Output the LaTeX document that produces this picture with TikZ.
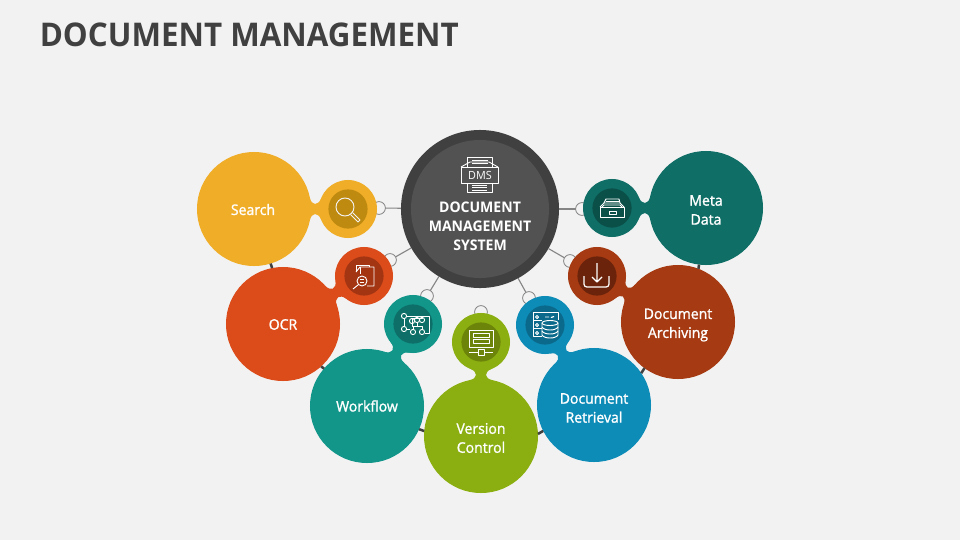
\documentclass[tikz,border=0pt]{standalone}
\usepackage{fontspec}
\setmainfont{Open Sans}[FakeStretch=.96]
\newfontfamily\labelface[FakeBold=1.3,FakeStretch=.96]{Open Sans}
\usetikzlibrary{calc}
\definecolor{paper}{HTML}{F2F2F2}
\definecolor{hubdark}{HTML}{404040}
\definecolor{hubgray}{HTML}{525252}
\definecolor{ringgray}{HTML}{858585}
\definecolor{searchcol}{HTML}{F0AD28}
\definecolor{searchin}{HTML}{BF8A10}
\definecolor{ocrcol}{HTML}{DC4C1A}
\definecolor{ocrin}{HTML}{A33513}
\definecolor{flowcol}{HTML}{12968A}
\definecolor{flowin}{HTML}{0D6F67}
\definecolor{versioncol}{HTML}{8BAF10}
\definecolor{versionin}{HTML}{6B8409}
\definecolor{retrievalcol}{HTML}{0E8CB8}
\definecolor{retrievalin}{HTML}{0B6A8C}
\definecolor{archivecol}{HTML}{A63A12}
\definecolor{archivein}{HTML}{6B240B}
\definecolor{metacol}{HTML}{0F6E66}
\definecolor{metain}{HTML}{0B4F49}
\tikzstyle{ball}=[circle, inner sep=0pt, outer sep=0pt]
\tikzstyle{big}=[ball, minimum size=2.85cm]
\tikzstyle{little}=[ball, minimum size=1.45cm]
\tikzstyle{inner}=[ball, minimum size=.98cm]
\tikzstyle{ring}=[ball, draw=ringgray, line width=.6pt, minimum size=.32cm]
\tikzstyle{link}=[draw=ringgray, line width=.8pt]
\tikzstyle{bond}=[draw=hubdark, line width=1.8pt]
\tikzstyle{icon}=[draw=white, line width=.65pt, line join=round]
\tikzstyle{word}=[text=white, align=center, inner sep=0pt, font=\labelface\fontsize{10.4}{13.5}\selectfont]
\begin{document}
\begin{tikzpicture}[x=.025cm, y=-.025cm]
	\useasboundingbox (0,0) rectangle (960,540);
	\fill[paper] (0,0) rectangle (960,540);
	\node[anchor=base west, inner sep=0pt, text=hubdark, font=\bfseries\fontsize{23.2}{30}\selectfont] (title) at (39.5,46) {DOCUMENT MANAGEMENT};

	% rings and hub
	\foreach \n/\x/\y in {rsearch/379/208, rocr/390/260, rflow/427/296, rversion/481/312, rretrieval/529/298, rarchive/570/261, rmeta/582/209}{
		\node[ring] (\n) at (\x,\y) {};
	}
	\node[ball, fill=hubdark, minimum size=3.95cm] (hub) at (480,209) {};
	\node[ball, fill=hubgray, minimum size=3.45cm] (hubcore) at (480,209) {};
	\node[text=white, align=center, inner sep=0pt, font=\bfseries\fontsize{10.4}{13.5}\selectfont] (hubtext) at (480,226) {DOCUMENT\\MANAGEMENT\\SYSTEM};
	\foreach \n in {rsearch, rocr, rflow, rretrieval, rarchive, rmeta}{
		\draw[link] (hub) -- (\n);
	}

	% big circles
	\node[big, fill=searchcol] (search) at (254,209) {};
	\node[big, fill=ocrcol] (ocr) at (283,324) {};
	\node[big, fill=flowcol] (flow) at (367,406) {};
	\node[big, fill=versioncol] (version) at (481,436) {};
	\node[big, fill=retrievalcol] (retrieval) at (594,405) {};
	\node[big, fill=archivecol] (archive) at (678,322) {};
	\node[big, fill=metacol] (meta) at (706,208) {};

	% labels
	\node[word] (tsearch) at (253,209.5) {Search};
	\node[word] (tocr) at (283,324.5) {OCR};
	\node[word] (tflow) at (367,406) {Workflow};
	\node[word] (tversion) at (481,438) {Version\\Control};
	\node[word] (tretrieval) at (594,408) {Document\\Retrieval};
	\node[word] (tarchive) at (678,325) {Document\\Archiving};
	\node[word] (tmeta) at (706,210) {Meta\\Data};

	% small circles
	\node[little, fill=searchcol] (lsearch) at (348,209) {};
	\node[little, fill=ocrcol] (locr) at (364,276) {};
	\node[little, fill=flowcol] (lflow) at (413,324) {};
	\node[little, fill=versioncol] (lversion) at (481,342) {};
	\node[little, fill=retrievalcol] (lretrieval) at (545,325) {};
	\node[little, fill=archivecol] (larchive) at (597,276) {};
	\node[little, fill=metacol] (lmeta) at (612,208) {};
	\node[inner, fill=searchin] (isearch) at (lsearch) {};
	\node[inner, fill=ocrin] (iocr) at (locr) {};
	\node[inner, fill=flowin] (iflow) at (lflow) {};
	\node[inner, fill=versionin] (iversion) at (lversion) {};
	\node[inner, fill=retrievalin] (iretrieval) at (lretrieval) {};
	\node[inner, fill=archivein] (iarchive) at (larchive) {};
	\node[inner, fill=metain] (imeta) at (lmeta) {};

	% necks
	\foreach \a/\b/\c in {search/lsearch/searchcol, ocr/locr/ocrcol, flow/lflow/flowcol, version/lversion/versioncol, retrieval/lretrieval/retrievalcol, archive/larchive/archivecol, meta/lmeta/metacol}{
		\fill[\c] ($(\a)!1.42cm!12:(\b)$) .. controls ($(\a)!1.445cm!2.9:(\b)$) and ($(\b)!.755cm!-5.5:(\a)$) .. ($(\b)!.72cm!-22:(\a)$)
			-- ($(\b)!.72cm!22:(\a)$) .. controls ($(\b)!.755cm!5.5:(\a)$) and ($(\a)!1.445cm!-2.9:(\b)$) .. ($(\a)!1.42cm!-12:(\b)$) -- cycle;
	}

	% bonds
	\foreach \a/\s/\b/\t in {search/-73/ocr/101.5, ocr/-48.4/flow/139.8, flow/-24.8/version/175.2, version/2.9/retrieval/207.8, retrieval/34.8/archive/234.5, archive/69.4/meta/263}{
		\draw[bond] (\a.\s) -- (\b.\t);
	}

	% hub icon
	\begin{scope}[shift={(480,175)}]
		\draw[icon] (-13,-8) -- (-13,-18) -- (12,-18) -- (12,-8);
		\draw[icon] (-13,8) -- (-13,17) -- (12,17) -- (12,8);
		\draw[icon] (-19,-8) rectangle (18,8);
		\draw[icon] (-19,-8) -- (-10,-13) -- (9,-13) -- (18,-8);
		\draw[icon] (-8,-15) -- (8,-15) (-8,-12) -- (8,-12);
		\draw[icon] (-8,10) -- (7,10) (-8,12) -- (7,12) (-8,15) -- (7,15);
		\node[text=white, inner sep=0pt, font=\fontsize{8}{8}\selectfont] (dms) at (0,0) {DMS};
	\end{scope}

	% search icon
	\begin{scope}[shift={(isearch)}]
		\draw[icon, draw=paper] (-3,-2) circle (9);
		\draw[icon, draw=paper] (4.5,3.5) -- (12,11) -- (10,13) -- (2.5,5.5);
	\end{scope}

	% ocr icon
	\begin{scope}[shift={(iocr)}]
		\draw[icon] (-8,-4) -- (-8,-11) -- (5,-11) -- (5,-9);
		\draw[icon] (-8,-4) -- (-4,-9) -- (10,-9) -- (10,10) -- (3,10);
		\draw[icon] (-4,-9) -- (-4,-2);
		\draw[icon] (-2,5) circle (5);
		\draw[icon] (-4,3.5) -- (0,3.5) (-4,6.5) -- (0,6.5);
		\draw[icon] (-6,9) -- (-11,13);
	\end{scope}

	% workflow icon
	\begin{scope}[shift={(iflow)}]
		\foreach \x/\y in {-9/-8, -9/5, 0/8, 9/8, -1/-3, 4/-4, 9/-4}{
			\draw[icon] (\x,\y) circle (2.6);
		}
		\draw[icon] (-6,-8) -- (16,-8) -- (16,9) -- (12,9);
		\draw[icon] (-9,-5) -- (-9,2) (-6,5) -- (-3,5) (-1,-6) -- (-1,2) -- (9,2) -- (9,5) (4,-1) -- (4,2) (0,2) -- (0,5);
		\draw[icon] (-1,-6) -- (9,-6) -- (9,-7);
	\end{scope}

	% version icon
	\begin{scope}[shift={(lversion)}]
		\draw[icon] (-12,-12) rectangle (12,5);
		\draw[icon] (-8,-9) rectangle (8,-5);
		\draw[icon] (-8,-3) rectangle (8,1);
		\draw[icon] (-12,10) -- (-3,10) (3,10) -- (12,10);
		\draw[icon] (-3,7) rectangle (3,13);
	\end{scope}

	% retrieval icon
	\begin{scope}[shift={(545,324)}]
		\draw[icon] (-12,3) -- (-12,-12) -- (13,-12) -- (13,-4);
		\draw[icon] (-12,-4) -- (-3,-4) (-12,4) -- (-3,4) (-12,-4) -- (-12,12) -- (-3,12);
		\foreach \y in {-7, 1, 9}{
			\draw[icon] (-8,\y) circle (1.6);
		}
		\draw[icon] (0,-7) -- (4,-7) (6,-7) .. controls (7,-5) and (8,-9) .. (9,-7);
		\draw[icon] (5,-1) ellipse (8 and 2.5);
		\draw[icon] (-3,-1) -- (-3,11) .. controls (-1,15) and (11,15) .. (13,11) -- (13,-1);
		\draw[icon] (-3,3) .. controls (-1,7) and (11,7) .. (13,3);
		\draw[icon] (-3,7) .. controls (-1,11) and (11,11) .. (13,7);
	\end{scope}

	% archive icon
	\begin{scope}[shift={(larchive)}]
		\draw[icon, line width=.85pt] (0,-13) -- (0,6) (-5,1) -- (0,6) -- (5,1);
		\draw[icon, line width=.85pt, rounded corners=2pt] (-13,0) -- (-13,11) -- (12,11) -- (12,0);
	\end{scope}

	% meta icon
	\begin{scope}[shift={(lmeta)}]
		\draw[icon] (-12,-1) -- (12,-1) -- (12,9) -- (-12,9) -- cycle;
		\draw[icon] (-12,-1) -- (-8,-5) -- (8,-5) -- (12,-1);
		\draw[icon] (-8,-5) -- (-6,-9) -- (7,-9) -- (8,-5);
		\draw[icon] (-6,-6.5) -- (7,-6.5);
		\draw[icon] (-10,-1) -- (-8,-3) -- (8,-3) -- (10,-1);
		\draw[icon] (-3,3) rectangle (4,6);
	\end{scope}
\end{tikzpicture}
\end{document}
